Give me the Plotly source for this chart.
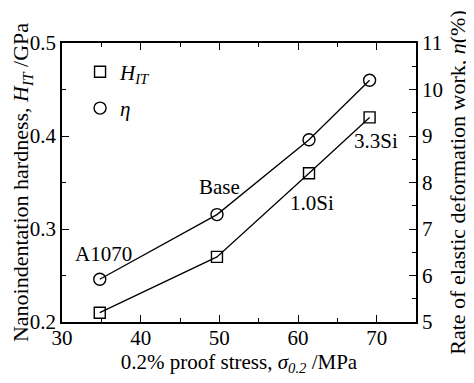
import plotly.graph_objects as go

# Data
stress = [34.8, 49.7, 61.4, 69.1]          # 0.2% proof stress (MPa)
hardness = [0.21, 0.27, 0.36, 0.42]        # H_IT (GPa)
eta = [5.92, 7.31, 8.92, 10.2]             # rate of elastic deformation work (%)
alloys = ["A1070", "Base", "1.0Si", "3.3Si"]

FONT = "Liberation Serif"
fs = 21
fs_title = 22

fig = go.Figure()
fig.add_trace(go.Scatter(
    x=stress, y=hardness, mode="lines+markers", showlegend=False,
    line=dict(color="black", width=1.3),
    marker=dict(symbol="square-open", size=11, color="black", line=dict(width=1.4)),
))
fig.add_trace(go.Scatter(
    x=stress, y=eta, mode="lines+markers", showlegend=False, yaxis="y2",
    line=dict(color="black", width=1.3),
    marker=dict(symbol="circle-open", size=12, color="black", line=dict(width=1.4)),
))
# legend-only entries (markers only)
fig.add_trace(go.Scatter(
    x=[None], y=[None], mode="markers", name="<i>H</i><sub><i>IT</i></sub>",
    marker=dict(symbol="square-open", size=11, color="black", line=dict(width=1.4)),
    legendgroup="a",
))
fig.add_trace(go.Scatter(
    x=[None], y=[None], mode="markers", name="<i>η</i>", yaxis="y2",
    marker=dict(symbol="circle-open", size=12, color="black", line=dict(width=1.4)),
    legendgroup="b",
))

# labels anchored to data points
shifts = {"A1070": ("eta", 0, 4, 25), "Base": ("eta", 1, 3, 28),
          "1.0Si": ("h", 2, 3, -30), "3.3Si": ("h", 3, 6, -24)}
for name in alloys:
    which, i, dx, dy = shifts[name]
    fig.add_annotation(x=stress[i], y=(eta[i] if which == "eta" else hardness[i]),
                       xref="x", yref=("y2" if which == "eta" else "y"), text=name,
                       showarrow=False, xshift=dx, yshift=dy,
                       font=dict(family=FONT, size=fs, color="black"))

axis_common = dict(
    showgrid=False, zeroline=False, showline=True, linecolor="black", linewidth=1.6,
    ticks="inside", tickcolor="black", tickwidth=1.3, ticklen=7, automargin=False,
    tickfont=dict(family=FONT, size=fs, color="black"),
)
minor_common = dict(ticks="inside", ticklen=4, tickcolor="black", tickwidth=1.3, showgrid=False)

# the page body adds an 8px offset; size/margins compensate for it
fig.update_layout(
    template="none",
    width=466, height=375,
    margin=dict(l=54, r=58, t=35, b=61),
    paper_bgcolor="white", plot_bgcolor="white",
    font=dict(family=FONT, size=fs, color="black"),
    xaxis=dict(**axis_common, range=[30, 75], dtick=10, tick0=30, mirror="ticks",
               ticklabelstandoff=-4,
               minor=dict(dtick=5, tick0=30, **minor_common),
               title=dict(text="0.2% proof stress, <i>σ</i><sub><i>0.2</i></sub> /MPa",
                          font=dict(family=FONT, size=fs), standoff=2)),
    yaxis=dict(**axis_common, range=[0.2, 0.5], dtick=0.1, tick0=0.2, tickformat=".1f",
               minor=dict(dtick=0.05, tick0=0.2, **minor_common),
               title=dict(text="Nanoindentation hardness, <i>H</i><sub><i>IT</i></sub> /GPa",
                          font=dict(family=FONT, size=fs_title), standoff=2)),
    yaxis2=dict(**axis_common, overlaying="y", side="right", range=[5, 11], dtick=1, tick0=5,
                minor=dict(dtick=0.5, tick0=5, **minor_common),
                title=dict(text="Rate of elastic deformation work, <i>η</i>(%)",
                           font=dict(family=FONT, size=fs_title), standoff=8)),
    legend=dict(x=0.051, y=0.969, xanchor="left", yanchor="top", bgcolor="rgba(0,0,0,0)",
                font=dict(family=FONT, size=fs), tracegroupgap=6),
)

fig.write_html("out.html")
